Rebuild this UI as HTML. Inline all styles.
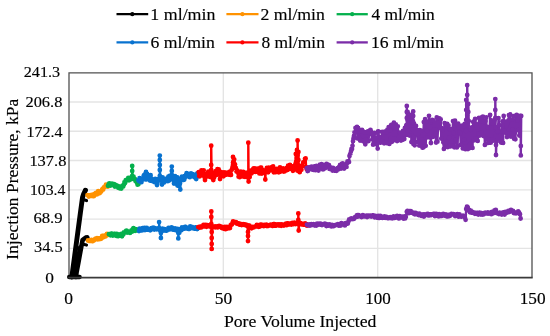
<!DOCTYPE html>
<html><head><meta charset="utf-8"><style>
html,body{margin:0;padding:0;background:#fff;}
svg{display:block;}
text{font-family:"Liberation Serif","Times New Roman",serif;fill:#000;stroke:#000;stroke-width:0.16px;}
.d polyline,.d path{fill:none;stroke-linejoin:round;stroke-linecap:round;}
</style></head><body>
<svg width="550" height="336" viewBox="0 0 550 336">
<rect width="550" height="336" fill="#fff"/>
<g stroke="#E4E4E4" stroke-width="1.4"><line x1="69.0" y1="248.34" x2="532.0" y2="248.34"/><line x1="69.0" y1="219.09" x2="532.0" y2="219.09"/><line x1="69.0" y1="189.83" x2="532.0" y2="189.83"/><line x1="69.0" y1="160.57" x2="532.0" y2="160.57"/><line x1="69.0" y1="131.31" x2="532.0" y2="131.31"/><line x1="69.0" y1="102.06" x2="532.0" y2="102.06"/><line x1="223.33" y1="72.8" x2="223.33" y2="277.6"/><line x1="377.67" y1="72.8" x2="377.67" y2="277.6"/></g>
<path d="M69.0,277.6 V72.8 H532.0 V277.6" fill="none" stroke="#505050" stroke-width="1.3"/>
<g class="d"><polyline points="85.4,190.3 83.6,194.0 82.5,197.5 80.5,212.0 78.5,227.0 76.5,242.0 74.5,257.0 72.6,271.0 71.8,277.0" stroke="#000000" stroke-width="4.9"/><polyline points="87.3,237.4 84.5,238.4 82.6,240.0 80.5,251.0 78.5,262.0 76.6,272.0 76.0,277.0" stroke="#000000" stroke-width="4.6"/><polyline points="79.5,247.0 77.8,256.0 76.0,265.0 74.3,273.0" stroke="#000000" stroke-width="3.0"/><polyline points="69.3,277.0 72.0,277.0 75.0,277.0 79.5,277.0" stroke="#000000" stroke-width="4.6"/><polyline points="83.0,199.5 86.5,200.5" stroke="#000000" stroke-width="3.2"/><polyline points="82.0,244.0 86.5,245.0" stroke="#000000" stroke-width="3.2"/><path d="M85.5,190.3h0M86.0,237.5h0" stroke="#000000" stroke-width="4.4"/><polyline points="87.5,195.1 88.1,195.4 88.8,196.5 89.4,195.3 90.0,195.5 90.8,195.8 91.5,194.8 92.2,195.8 93.0,196.2 93.8,196.2 94.5,193.8 95.2,193.9 96.0,192.9 96.8,194.4 97.5,193.5 98.2,191.2 99.0,193.4 99.8,193.1 100.5,191.9 101.2,191.6 102.0,190.0 102.6,188.9 103.2,189.6 103.9,187.5 104.5,187.1 105.2,186.3 106.0,184.7 106.6,185.8 107.2,185.6 107.9,186.6 108.5,185.5" stroke="#FF9200" stroke-width="2.4"/><path d="M87.5,195.1h0M88.1,195.4h0M88.8,196.5h0M89.4,195.3h0M90.0,195.5h0M90.8,195.8h0M91.5,194.8h0M92.2,195.8h0M93.0,196.2h0M93.8,196.2h0M94.5,193.8h0M95.2,193.9h0M96.0,192.9h0M96.8,194.4h0M97.5,193.5h0M98.2,191.2h0M99.0,193.4h0M99.8,193.1h0M100.5,191.9h0M101.2,191.6h0M102.0,190.0h0M102.6,188.9h0M103.2,189.6h0M103.9,187.5h0M104.5,187.1h0M105.2,186.3h0M106.0,184.7h0M106.6,185.8h0M107.2,185.6h0M107.9,186.6h0M108.5,185.5h0" stroke="#FF9200" stroke-width="4.8"/><polyline points="88.0,240.5 88.7,240.8 89.3,240.5 90.0,240.9 90.8,240.3 91.5,239.8 92.2,241.2 93.0,241.1 93.7,240.6 94.3,240.1 95.0,239.1 95.7,238.7 96.3,238.7 97.0,238.1 97.8,239.4 98.5,238.4 99.2,239.2 100.0,238.1 100.8,238.9 101.5,238.2 102.2,235.9 103.0,235.9 103.8,237.0 104.6,235.6 105.4,236.4 106.2,234.9 107.0,234.0 107.7,235.1 108.5,234.6" stroke="#FF9200" stroke-width="2.4"/><path d="M88.0,240.5h0M88.7,240.8h0M89.3,240.5h0M90.0,240.9h0M90.8,240.3h0M91.5,239.8h0M92.2,241.2h0M93.0,241.1h0M93.7,240.6h0M94.3,240.1h0M95.0,239.1h0M95.7,238.7h0M96.3,238.7h0M97.0,238.1h0M97.8,239.4h0M98.5,238.4h0M99.2,239.2h0M100.0,238.1h0M100.8,238.9h0M101.5,238.2h0M102.2,235.9h0M103.0,235.9h0M103.8,237.0h0M104.6,235.6h0M105.4,236.4h0M106.2,234.9h0M107.0,234.0h0M107.7,235.1h0M108.5,234.6h0" stroke="#FF9200" stroke-width="4.8"/><polyline points="108.0,185.8 108.7,184.2 109.3,183.4 109.9,183.9 110.6,185.5 111.3,185.2 112.0,183.6 112.7,184.2 113.4,184.1 114.1,184.2 114.8,186.5 115.5,185.0 116.2,186.4 116.9,186.4 117.6,186.0 118.3,187.8 119.0,186.5 119.8,188.3 120.5,187.3 121.3,188.6 121.9,186.8 122.6,185.7 123.2,186.4 123.9,184.7 124.5,182.1 125.1,182.9 125.8,180.1 126.4,179.8 127.0,180.3 127.7,179.6 128.3,177.9 129.0,180.3 129.7,178.0 130.3,178.0 131.0,179.3 131.6,177.8 132.2,176.0 132.2,171.0 132.2,166.0 132.6,177.5 132.2,177.5 132.9,176.7 133.5,176.6 134.2,178.9 134.8,178.9 135.5,180.9 136.1,181.3 136.8,182.5 137.6,184.7 138.4,184.2" stroke="#04B04C" stroke-width="2.4"/><path d="M108.0,185.8h0M108.7,184.2h0M109.3,183.4h0M109.9,183.9h0M110.6,185.5h0M111.3,185.2h0M112.0,183.6h0M112.7,184.2h0M113.4,184.1h0M114.1,184.2h0M114.8,186.5h0M115.5,185.0h0M116.2,186.4h0M116.9,186.4h0M117.6,186.0h0M118.3,187.8h0M119.0,186.5h0M119.8,188.3h0M120.5,187.3h0M121.3,188.6h0M121.9,186.8h0M122.6,185.7h0M123.2,186.4h0M123.9,184.7h0M124.5,182.1h0M125.1,182.9h0M125.8,180.1h0M126.4,179.8h0M127.0,180.3h0M127.7,179.6h0M128.3,177.9h0M129.0,180.3h0M129.7,178.0h0M130.3,178.0h0M131.0,179.3h0M131.6,177.8h0M132.2,176.0h0M132.2,171.0h0M132.2,166.0h0M132.6,177.5h0M132.2,177.5h0M132.9,176.7h0M133.5,176.6h0M134.2,178.9h0M134.8,178.9h0M135.5,180.9h0M136.1,181.3h0M136.8,182.5h0M137.6,184.7h0M138.4,184.2h0" stroke="#04B04C" stroke-width="4.8"/><polyline points="108.9,234.2 109.7,234.5 110.5,235.3 111.2,233.6 112.0,233.6 112.7,235.6 113.4,235.4 114.1,233.9 114.8,233.8 115.5,235.3 116.2,235.8 116.9,233.9 117.7,236.0 118.5,236.0 119.2,235.4 120.0,235.1 120.7,234.2 121.3,234.0 122.0,236.3 122.7,234.3 123.3,234.5 123.9,232.4 124.5,232.8 125.2,232.1 125.8,231.1 126.5,230.7 127.2,232.6 127.8,231.4 128.5,232.3 129.2,232.7 130.0,232.9 130.8,231.8 131.5,230.4 132.2,231.6 132.8,229.2 133.5,228.2 134.3,229.6 135.1,230.9 135.8,229.5 136.6,229.5 137.3,230.0" stroke="#04B04C" stroke-width="2.4"/><path d="M108.9,234.2h0M109.7,234.5h0M110.5,235.3h0M111.2,233.6h0M112.0,233.6h0M112.7,235.6h0M113.4,235.4h0M114.1,233.9h0M114.8,233.8h0M115.5,235.3h0M116.2,235.8h0M116.9,233.9h0M117.7,236.0h0M118.5,236.0h0M119.2,235.4h0M120.0,235.1h0M120.7,234.2h0M121.3,234.0h0M122.0,236.3h0M122.7,234.3h0M123.3,234.5h0M123.9,232.4h0M124.5,232.8h0M125.2,232.1h0M125.8,231.1h0M126.5,230.7h0M127.2,232.6h0M127.8,231.4h0M128.5,232.3h0M129.2,232.7h0M130.0,232.9h0M130.8,231.8h0M131.5,230.4h0M132.2,231.6h0M132.8,229.2h0M133.5,228.2h0M134.3,229.6h0M135.1,230.9h0M135.8,229.5h0M136.6,229.5h0M137.3,230.0h0" stroke="#04B04C" stroke-width="4.8"/><polyline points="138.4,180.2 139.0,181.1 139.6,178.1 140.2,179.2 140.8,182.0 141.4,182.2 142.0,179.9 142.6,179.8 143.1,178.8 143.7,175.8 144.3,174.8 144.9,174.3 145.4,179.3 146.0,172.0 146.4,177.7 146.0,177.7 146.6,179.4 147.1,173.9 147.7,177.7 148.3,177.0 148.9,178.6 149.4,176.3 150.0,180.5 150.6,175.2 151.1,178.3 151.7,179.8 152.3,181.0 152.9,180.4 153.4,180.4 154.0,181.3 154.6,182.2 155.2,179.0 155.8,181.2 156.4,182.7 157.0,185.0 157.4,182.7 157.0,182.7 157.7,179.2 158.3,180.6 159.0,180.2 159.6,178.8 159.8,176.0 159.8,170.0 159.8,165.0 159.8,160.0 159.8,155.6 160.2,179.5 160.2,179.5 160.8,178.5 161.4,180.1 162.0,184.5 162.4,180.7 162.0,180.7 162.6,177.4 163.1,180.7 163.7,182.7 164.3,182.0 164.9,181.0 165.4,178.9 166.0,180.9 166.6,179.9 167.2,178.9 167.8,181.2 168.4,176.6 169.0,180.5 169.6,176.0 170.2,179.2 170.8,178.3 171.4,176.6 171.8,175.0 171.8,171.0 171.8,166.6 172.2,179.2 172.0,179.2 172.6,178.2 173.2,179.1 173.8,181.1 174.0,183.5 174.4,177.3 174.4,177.3 175.0,176.1 175.6,177.9 176.2,180.3 176.8,177.5 177.4,177.4 177.5,185.5 177.9,181.9 178.0,181.9 178.7,181.0 179.3,180.2 180.0,183.4 180.3,189.5 180.7,179.1 180.7,179.1 181.3,180.3 182.0,176.7 182.6,177.7 183.1,179.6 183.7,179.9 184.3,179.4 184.9,176.0 185.4,176.9 186.0,174.9 186.6,173.2 187.2,174.7 187.9,176.1 188.5,175.6 189.1,175.3 189.8,177.2 190.4,173.7 191.0,173.5 191.6,175.3 192.1,174.4 192.7,174.1 193.3,175.4 193.9,176.8 194.4,176.1 195.0,175.1 195.6,178.2 196.2,179.0 196.8,175.8 197.3,173.5 197.9,173.2 198.5,176.0" stroke="#0872CF" stroke-width="2.4"/><path d="M138.4,180.2h0M139.0,181.1h0M139.6,178.1h0M140.2,179.2h0M140.8,182.0h0M141.4,182.2h0M142.0,179.9h0M142.6,179.8h0M143.1,178.8h0M143.7,175.8h0M144.3,174.8h0M144.9,174.3h0M145.4,179.3h0M146.0,172.0h0M146.4,177.7h0M146.0,177.7h0M146.6,179.4h0M147.1,173.9h0M147.7,177.7h0M148.3,177.0h0M148.9,178.6h0M149.4,176.3h0M150.0,180.5h0M150.6,175.2h0M151.1,178.3h0M151.7,179.8h0M152.3,181.0h0M152.9,180.4h0M153.4,180.4h0M154.0,181.3h0M154.6,182.2h0M155.2,179.0h0M155.8,181.2h0M156.4,182.7h0M157.0,185.0h0M157.4,182.7h0M157.0,182.7h0M157.7,179.2h0M158.3,180.6h0M159.0,180.2h0M159.6,178.8h0M159.8,176.0h0M159.8,170.0h0M159.8,165.0h0M159.8,160.0h0M159.8,155.6h0M160.2,179.5h0M160.2,179.5h0M160.8,178.5h0M161.4,180.1h0M162.0,184.5h0M162.4,180.7h0M162.0,180.7h0M162.6,177.4h0M163.1,180.7h0M163.7,182.7h0M164.3,182.0h0M164.9,181.0h0M165.4,178.9h0M166.0,180.9h0M166.6,179.9h0M167.2,178.9h0M167.8,181.2h0M168.4,176.6h0M169.0,180.5h0M169.6,176.0h0M170.2,179.2h0M170.8,178.3h0M171.4,176.6h0M171.8,175.0h0M171.8,171.0h0M171.8,166.6h0M172.2,179.2h0M172.0,179.2h0M172.6,178.2h0M173.2,179.1h0M173.8,181.1h0M174.0,183.5h0M174.4,177.3h0M174.4,177.3h0M175.0,176.1h0M175.6,177.9h0M176.2,180.3h0M176.8,177.5h0M177.4,177.4h0M177.5,185.5h0M177.9,181.9h0M178.0,181.9h0M178.7,181.0h0M179.3,180.2h0M180.0,183.4h0M180.3,189.5h0M180.7,179.1h0M180.7,179.1h0M181.3,180.3h0M182.0,176.7h0M182.6,177.7h0M183.1,179.6h0M183.7,179.9h0M184.3,179.4h0M184.9,176.0h0M185.4,176.9h0M186.0,174.9h0M186.6,173.2h0M187.2,174.7h0M187.9,176.1h0M188.5,175.6h0M189.1,175.3h0M189.8,177.2h0M190.4,173.7h0M191.0,173.5h0M191.6,175.3h0M192.1,174.4h0M192.7,174.1h0M193.3,175.4h0M193.9,176.8h0M194.4,176.1h0M195.0,175.1h0M195.6,178.2h0M196.2,179.0h0M196.8,175.8h0M197.3,173.5h0M197.9,173.2h0M198.5,176.0h0" stroke="#0872CF" stroke-width="4.8"/><polyline points="139.0,231.0 139.6,228.6 140.2,230.4 140.8,230.0 141.4,229.1 142.0,230.4 142.6,228.2 143.2,228.4 143.8,229.2 144.4,227.9 145.0,230.1 145.6,228.4 146.2,228.2 146.8,227.9 147.3,229.5 147.9,229.0 148.5,229.5 149.1,229.5 149.7,229.9 150.2,230.3 150.8,229.5 151.4,228.2 152.0,228.9 152.6,228.1 153.1,227.6 153.7,228.9 154.3,229.6 154.9,228.1 155.4,228.4 156.0,228.6 156.6,229.3 157.2,228.6 157.9,228.6 158.5,228.7 159.1,228.2 159.1,222.1 159.5,229.8 159.6,229.8 160.1,230.6 160.7,228.8 160.9,233.0 160.9,238.0 161.3,231.1 161.2,231.1 161.8,230.5 162.3,228.7 162.9,229.5 163.4,229.9 164.0,230.6 164.6,229.1 165.1,229.6 165.7,230.5 166.2,230.2 166.8,230.6 167.3,229.2 167.9,229.5 168.5,228.0 169.2,229.3 169.8,229.3 170.4,228.6 171.0,228.6 171.6,227.3 172.1,229.3 172.7,229.6 173.2,229.7 173.8,228.6 174.4,229.5 175.1,228.4 175.7,230.2 176.4,230.3 177.0,229.1 177.6,229.0 178.2,230.6 178.3,233.0 178.3,238.4 178.7,231.5 178.7,231.5 179.3,232.8 180.0,231.1 180.7,228.9 181.3,230.2 182.0,227.3 182.6,229.2 183.2,227.3 183.8,227.6 184.4,228.7 185.0,226.8 185.6,226.8 186.1,227.8 186.7,228.3 187.3,228.6 187.9,228.2 188.4,228.9 189.0,227.6 189.6,228.8 190.2,226.4 190.7,226.7 191.3,227.6 191.9,227.0 192.5,228.2 193.1,228.0 193.7,227.7 194.3,228.7 194.8,227.9 195.4,227.3 196.0,227.5 196.6,228.9 197.2,229.1 197.8,228.0" stroke="#0872CF" stroke-width="2.4"/><path d="M139.0,231.0h0M139.6,228.6h0M140.2,230.4h0M140.8,230.0h0M141.4,229.1h0M142.0,230.4h0M142.6,228.2h0M143.2,228.4h0M143.8,229.2h0M144.4,227.9h0M145.0,230.1h0M145.6,228.4h0M146.2,228.2h0M146.8,227.9h0M147.3,229.5h0M147.9,229.0h0M148.5,229.5h0M149.1,229.5h0M149.7,229.9h0M150.2,230.3h0M150.8,229.5h0M151.4,228.2h0M152.0,228.9h0M152.6,228.1h0M153.1,227.6h0M153.7,228.9h0M154.3,229.6h0M154.9,228.1h0M155.4,228.4h0M156.0,228.6h0M156.6,229.3h0M157.2,228.6h0M157.9,228.6h0M158.5,228.7h0M159.1,228.2h0M159.1,222.1h0M159.5,229.8h0M159.6,229.8h0M160.1,230.6h0M160.7,228.8h0M160.9,233.0h0M160.9,238.0h0M161.3,231.1h0M161.2,231.1h0M161.8,230.5h0M162.3,228.7h0M162.9,229.5h0M163.4,229.9h0M164.0,230.6h0M164.6,229.1h0M165.1,229.6h0M165.7,230.5h0M166.2,230.2h0M166.8,230.6h0M167.3,229.2h0M167.9,229.5h0M168.5,228.0h0M169.2,229.3h0M169.8,229.3h0M170.4,228.6h0M171.0,228.6h0M171.6,227.3h0M172.1,229.3h0M172.7,229.6h0M173.2,229.7h0M173.8,228.6h0M174.4,229.5h0M175.1,228.4h0M175.7,230.2h0M176.4,230.3h0M177.0,229.1h0M177.6,229.0h0M178.2,230.6h0M178.3,233.0h0M178.3,238.4h0M178.7,231.5h0M178.7,231.5h0M179.3,232.8h0M180.0,231.1h0M180.7,228.9h0M181.3,230.2h0M182.0,227.3h0M182.6,229.2h0M183.2,227.3h0M183.8,227.6h0M184.4,228.7h0M185.0,226.8h0M185.6,226.8h0M186.1,227.8h0M186.7,228.3h0M187.3,228.6h0M187.9,228.2h0M188.4,228.9h0M189.0,227.6h0M189.6,228.8h0M190.2,226.4h0M190.7,226.7h0M191.3,227.6h0M191.9,227.0h0M192.5,228.2h0M193.1,228.0h0M193.7,227.7h0M194.3,228.7h0M194.8,227.9h0M195.4,227.3h0M196.0,227.5h0M196.6,228.9h0M197.2,229.1h0M197.8,228.0h0" stroke="#0872CF" stroke-width="4.8"/><polyline points="198.7,172.1 199.2,175.9 199.8,176.3 200.3,173.2 200.9,173.1 201.4,170.4 202.0,172.2 202.6,172.4 203.1,173.5 203.7,170.3 204.3,176.7 204.9,174.2 205.0,180.0 205.4,173.9 205.4,173.9 206.0,176.9 206.6,175.3 207.1,174.7 207.7,175.8 208.3,171.7 208.9,174.5 209.4,173.6 210.0,176.9 210.6,177.1 211.2,170.0 211.2,165.0 211.2,145.7 211.6,173.3 211.2,173.3 211.8,175.0 212.4,173.2 213.0,175.6 213.3,180.0 213.7,177.5 213.6,177.5 214.1,177.4 214.7,174.2 215.2,172.6 215.8,171.2 216.4,173.4 216.9,174.8 217.5,169.1 218.1,173.8 218.7,169.4 219.3,171.0 219.9,171.8 220.0,179.0 220.4,175.2 220.5,175.2 221.1,173.4 221.7,174.1 222.3,175.7 222.9,172.4 223.5,176.3 224.1,172.4 224.6,174.8 225.2,173.1 225.8,172.7 226.4,174.7 227.0,174.1 227.6,173.6 228.1,173.8 228.7,174.5 229.3,172.0 229.9,172.3 230.4,174.9 231.0,174.9 231.8,169.7 232.5,167.2 233.0,165.0 233.0,157.0 233.4,162.7 233.0,162.7 233.5,161.3 234.2,159.3 235.0,164.5 235.8,168.0 236.5,171.6 237.2,170.3 238.0,172.8 238.6,176.7 239.1,172.2 239.7,177.2 240.3,176.5 240.9,171.7 241.4,172.3 242.0,175.5 242.6,172.7 243.2,171.8 243.8,176.7 244.4,174.3 245.0,176.9 245.6,172.8 246.2,174.8 246.8,176.8 247.4,172.7 248.0,174.1 248.3,178.0 248.3,142.7 248.6,181.5 249.0,176.5 248.7,176.5 248.6,176.5 249.1,177.2 249.7,176.9 250.3,170.7 250.9,172.5 251.4,173.4 252.0,171.0 252.6,172.3 253.1,169.2 253.7,168.5 254.3,168.8 254.9,168.4 255.4,171.8 256.0,171.6 256.6,171.7 257.1,168.8 257.7,168.8 258.3,168.7 258.9,172.6 259.4,173.4 260.0,172.7 260.6,167.7 261.2,167.7 261.9,173.6 262.5,170.8 263.1,172.9 263.8,170.4 264.4,171.5 265.0,172.1 265.3,179.5 265.7,171.2 265.6,171.2 266.2,171.9 266.9,167.8 267.5,171.8 268.1,172.3 268.8,167.7 269.4,169.1 270.0,170.5 270.6,168.5 271.2,167.3 271.9,167.2 272.5,169.6 273.1,166.5 273.8,172.3 274.4,171.8 275.0,171.3 275.6,172.2 276.2,170.6 276.9,169.0 277.5,170.1 278.1,169.4 278.8,172.3 279.4,171.1 280.0,167.5 280.6,171.6 281.2,170.6 281.9,170.8 282.5,171.0 283.1,168.4 283.8,171.5 284.4,171.4 285.0,170.2 285.6,170.6 286.2,170.4 286.9,168.0 287.5,169.9 288.1,165.6 288.8,167.2 289.4,167.9 290.0,164.9 290.6,167.1 291.1,168.9 291.7,168.8 292.3,166.3 292.9,170.8 293.4,169.1 294.0,167.0 294.7,167.0 295.3,164.4 295.8,154.0 296.2,162.2 296.0,162.2 296.7,164.0 297.0,166.0 297.0,158.0 297.0,150.0 297.4,170.5 297.3,170.5 297.6,165.0 297.6,155.0 297.6,140.5 298.0,170.9 298.0,170.9 298.4,167.0 298.4,160.0 298.4,152.0 298.8,171.0 298.6,171.0 299.1,171.1 299.7,172.2 300.3,165.8 300.9,169.3 301.4,169.8 302.0,166.4 302.6,166.0 303.2,162.5 303.8,162.1 304.4,161.9 305.0,158.8 305.6,158.4 306.1,167.1 306.7,169.0" stroke="#FF0000" stroke-width="2.4"/><path d="M198.7,172.1h0M199.2,175.9h0M199.8,176.3h0M200.3,173.2h0M200.9,173.1h0M201.4,170.4h0M202.0,172.2h0M202.6,172.4h0M203.1,173.5h0M203.7,170.3h0M204.3,176.7h0M204.9,174.2h0M205.0,180.0h0M205.4,173.9h0M205.4,173.9h0M206.0,176.9h0M206.6,175.3h0M207.1,174.7h0M207.7,175.8h0M208.3,171.7h0M208.9,174.5h0M209.4,173.6h0M210.0,176.9h0M210.6,177.1h0M211.2,170.0h0M211.2,165.0h0M211.2,145.7h0M211.6,173.3h0M211.2,173.3h0M211.8,175.0h0M212.4,173.2h0M213.0,175.6h0M213.3,180.0h0M213.7,177.5h0M213.6,177.5h0M214.1,177.4h0M214.7,174.2h0M215.2,172.6h0M215.8,171.2h0M216.4,173.4h0M216.9,174.8h0M217.5,169.1h0M218.1,173.8h0M218.7,169.4h0M219.3,171.0h0M219.9,171.8h0M220.0,179.0h0M220.4,175.2h0M220.5,175.2h0M221.1,173.4h0M221.7,174.1h0M222.3,175.7h0M222.9,172.4h0M223.5,176.3h0M224.1,172.4h0M224.6,174.8h0M225.2,173.1h0M225.8,172.7h0M226.4,174.7h0M227.0,174.1h0M227.6,173.6h0M228.1,173.8h0M228.7,174.5h0M229.3,172.0h0M229.9,172.3h0M230.4,174.9h0M231.0,174.9h0M231.8,169.7h0M232.5,167.2h0M233.0,165.0h0M233.0,157.0h0M233.4,162.7h0M233.0,162.7h0M233.5,161.3h0M234.2,159.3h0M235.0,164.5h0M235.8,168.0h0M236.5,171.6h0M237.2,170.3h0M238.0,172.8h0M238.6,176.7h0M239.1,172.2h0M239.7,177.2h0M240.3,176.5h0M240.9,171.7h0M241.4,172.3h0M242.0,175.5h0M242.6,172.7h0M243.2,171.8h0M243.8,176.7h0M244.4,174.3h0M245.0,176.9h0M245.6,172.8h0M246.2,174.8h0M246.8,176.8h0M247.4,172.7h0M248.0,174.1h0M248.3,178.0h0M248.3,142.7h0M248.6,181.5h0M249.0,176.5h0M248.7,176.5h0M248.6,176.5h0M249.1,177.2h0M249.7,176.9h0M250.3,170.7h0M250.9,172.5h0M251.4,173.4h0M252.0,171.0h0M252.6,172.3h0M253.1,169.2h0M253.7,168.5h0M254.3,168.8h0M254.9,168.4h0M255.4,171.8h0M256.0,171.6h0M256.6,171.7h0M257.1,168.8h0M257.7,168.8h0M258.3,168.7h0M258.9,172.6h0M259.4,173.4h0M260.0,172.7h0M260.6,167.7h0M261.2,167.7h0M261.9,173.6h0M262.5,170.8h0M263.1,172.9h0M263.8,170.4h0M264.4,171.5h0M265.0,172.1h0M265.3,179.5h0M265.7,171.2h0M265.6,171.2h0M266.2,171.9h0M266.9,167.8h0M267.5,171.8h0M268.1,172.3h0M268.8,167.7h0M269.4,169.1h0M270.0,170.5h0M270.6,168.5h0M271.2,167.3h0M271.9,167.2h0M272.5,169.6h0M273.1,166.5h0M273.8,172.3h0M274.4,171.8h0M275.0,171.3h0M275.6,172.2h0M276.2,170.6h0M276.9,169.0h0M277.5,170.1h0M278.1,169.4h0M278.8,172.3h0M279.4,171.1h0M280.0,167.5h0M280.6,171.6h0M281.2,170.6h0M281.9,170.8h0M282.5,171.0h0M283.1,168.4h0M283.8,171.5h0M284.4,171.4h0M285.0,170.2h0M285.6,170.6h0M286.2,170.4h0M286.9,168.0h0M287.5,169.9h0M288.1,165.6h0M288.8,167.2h0M289.4,167.9h0M290.0,164.9h0M290.6,167.1h0M291.1,168.9h0M291.7,168.8h0M292.3,166.3h0M292.9,170.8h0M293.4,169.1h0M294.0,167.0h0M294.7,167.0h0M295.3,164.4h0M295.8,154.0h0M296.2,162.2h0M296.0,162.2h0M296.7,164.0h0M297.0,166.0h0M297.0,158.0h0M297.0,150.0h0M297.4,170.5h0M297.3,170.5h0M297.6,165.0h0M297.6,155.0h0M297.6,140.5h0M298.0,170.9h0M298.0,170.9h0M298.4,167.0h0M298.4,160.0h0M298.4,152.0h0M298.8,171.0h0M298.6,171.0h0M299.1,171.1h0M299.7,172.2h0M300.3,165.8h0M300.9,169.3h0M301.4,169.8h0M302.0,166.4h0M302.6,166.0h0M303.2,162.5h0M303.8,162.1h0M304.4,161.9h0M305.0,158.8h0M305.6,158.4h0M306.1,167.1h0M306.7,169.0h0" stroke="#FF0000" stroke-width="4.8"/><polyline points="198.3,227.1 199.0,226.9 199.8,227.7 200.5,226.7 201.2,227.4 202.0,226.5 202.7,226.7 203.5,224.9 204.2,225.9 205.0,226.3 205.7,224.8 206.5,226.8 207.2,225.2 208.0,225.9 208.7,225.4 209.4,226.3 210.1,226.7 210.9,225.6 211.3,224.0 211.3,217.0 211.3,211.5 211.7,232.0 211.7,238.0 211.7,244.0 211.7,248.9 212.1,227.7 211.7,227.7 211.6,227.7 212.3,226.7 213.0,227.1 213.7,227.2 214.3,226.7 215.0,226.5 215.7,227.3 216.4,227.1 217.1,226.4 217.7,227.4 218.4,226.5 219.1,226.0 219.8,226.6 220.5,226.3 221.2,226.6 221.9,228.1 222.7,227.4 223.4,228.6 224.1,228.4 224.8,227.0 225.5,229.2 226.2,228.9 227.0,226.8 227.8,228.4 228.5,227.2 229.2,227.1 230.0,228.0 230.7,225.2 231.3,224.7 231.9,224.4 232.6,222.7 233.1,221.3 233.7,221.6 234.5,222.0 235.2,222.4 236.0,222.2 236.7,223.6 237.4,223.5 238.2,223.3 238.9,223.3 239.6,224.7 240.3,223.8 241.0,224.5 241.7,225.0 242.4,224.5 243.1,224.1 243.9,224.8 244.6,224.4 245.3,225.2 246.0,224.7 246.7,225.7 247.4,226.1 248.0,232.0 248.0,236.0 248.0,241.1 248.4,226.1 248.1,226.1 248.8,225.5 249.4,225.7 250.1,227.9 250.8,228.1 251.5,228.3 252.2,227.4 252.8,226.8 253.5,227.4 254.2,226.8 254.9,226.6 255.5,226.3 256.2,226.3 256.9,225.0 257.6,225.1 258.4,226.8 259.1,226.6 259.8,226.5 260.5,224.7 261.3,224.7 262.0,225.2 262.7,225.5 263.4,226.0 264.2,224.8 264.9,225.8 265.6,224.8 266.3,224.7 267.0,226.0 267.8,225.6 268.5,225.8 269.2,225.2 269.9,225.3 270.7,224.7 271.4,224.9 272.1,225.8 272.8,225.9 273.6,224.2 274.3,224.2 275.0,225.7 275.7,225.2 276.4,225.5 277.1,224.3 277.7,224.7 278.4,224.3 279.1,225.5 279.8,224.5 280.5,225.1 281.2,225.8 281.9,224.3 282.5,224.8 283.2,225.2 283.9,225.6 284.6,224.4 285.3,224.2 286.0,223.6 286.7,225.2 287.4,223.4 288.1,223.3 288.8,224.3 289.5,224.1 290.2,224.4 290.8,223.5 291.5,224.5 292.2,222.9 292.9,223.1 293.6,224.0 294.3,222.7 295.0,223.1 295.7,224.0 296.4,223.8 297.1,223.0 297.8,222.9 298.3,220.0 298.3,213.4 298.7,230.5 299.1,223.4 298.7,223.4 298.6,223.4 299.3,224.4 300.0,223.7 300.7,223.1 301.4,224.3 302.2,223.9 302.9,224.6 303.6,224.6 304.4,224.5 305.1,223.3 305.8,224.1 306.4,224.1 307.0,225.7" stroke="#FF0000" stroke-width="2.4"/><path d="M198.3,227.1h0M199.0,226.9h0M199.8,227.7h0M200.5,226.7h0M201.2,227.4h0M202.0,226.5h0M202.7,226.7h0M203.5,224.9h0M204.2,225.9h0M205.0,226.3h0M205.7,224.8h0M206.5,226.8h0M207.2,225.2h0M208.0,225.9h0M208.7,225.4h0M209.4,226.3h0M210.1,226.7h0M210.9,225.6h0M211.3,224.0h0M211.3,217.0h0M211.3,211.5h0M211.7,232.0h0M211.7,238.0h0M211.7,244.0h0M211.7,248.9h0M212.1,227.7h0M211.7,227.7h0M211.6,227.7h0M212.3,226.7h0M213.0,227.1h0M213.7,227.2h0M214.3,226.7h0M215.0,226.5h0M215.7,227.3h0M216.4,227.1h0M217.1,226.4h0M217.7,227.4h0M218.4,226.5h0M219.1,226.0h0M219.8,226.6h0M220.5,226.3h0M221.2,226.6h0M221.9,228.1h0M222.7,227.4h0M223.4,228.6h0M224.1,228.4h0M224.8,227.0h0M225.5,229.2h0M226.2,228.9h0M227.0,226.8h0M227.8,228.4h0M228.5,227.2h0M229.2,227.1h0M230.0,228.0h0M230.7,225.2h0M231.3,224.7h0M231.9,224.4h0M232.6,222.7h0M233.1,221.3h0M233.7,221.6h0M234.5,222.0h0M235.2,222.4h0M236.0,222.2h0M236.7,223.6h0M237.4,223.5h0M238.2,223.3h0M238.9,223.3h0M239.6,224.7h0M240.3,223.8h0M241.0,224.5h0M241.7,225.0h0M242.4,224.5h0M243.1,224.1h0M243.9,224.8h0M244.6,224.4h0M245.3,225.2h0M246.0,224.7h0M246.7,225.7h0M247.4,226.1h0M248.0,232.0h0M248.0,236.0h0M248.0,241.1h0M248.4,226.1h0M248.1,226.1h0M248.8,225.5h0M249.4,225.7h0M250.1,227.9h0M250.8,228.1h0M251.5,228.3h0M252.2,227.4h0M252.8,226.8h0M253.5,227.4h0M254.2,226.8h0M254.9,226.6h0M255.5,226.3h0M256.2,226.3h0M256.9,225.0h0M257.6,225.1h0M258.4,226.8h0M259.1,226.6h0M259.8,226.5h0M260.5,224.7h0M261.3,224.7h0M262.0,225.2h0M262.7,225.5h0M263.4,226.0h0M264.2,224.8h0M264.9,225.8h0M265.6,224.8h0M266.3,224.7h0M267.0,226.0h0M267.8,225.6h0M268.5,225.8h0M269.2,225.2h0M269.9,225.3h0M270.7,224.7h0M271.4,224.9h0M272.1,225.8h0M272.8,225.9h0M273.6,224.2h0M274.3,224.2h0M275.0,225.7h0M275.7,225.2h0M276.4,225.5h0M277.1,224.3h0M277.7,224.7h0M278.4,224.3h0M279.1,225.5h0M279.8,224.5h0M280.5,225.1h0M281.2,225.8h0M281.9,224.3h0M282.5,224.8h0M283.2,225.2h0M283.9,225.6h0M284.6,224.4h0M285.3,224.2h0M286.0,223.6h0M286.7,225.2h0M287.4,223.4h0M288.1,223.3h0M288.8,224.3h0M289.5,224.1h0M290.2,224.4h0M290.8,223.5h0M291.5,224.5h0M292.2,222.9h0M292.9,223.1h0M293.6,224.0h0M294.3,222.7h0M295.0,223.1h0M295.7,224.0h0M296.4,223.8h0M297.1,223.0h0M297.8,222.9h0M298.3,220.0h0M298.3,213.4h0M298.7,230.5h0M299.1,223.4h0M298.7,223.4h0M298.6,223.4h0M299.3,224.4h0M300.0,223.7h0M300.7,223.1h0M301.4,224.3h0M302.2,223.9h0M302.9,224.6h0M303.6,224.6h0M304.4,224.5h0M305.1,223.3h0M305.8,224.1h0M306.4,224.1h0M307.0,225.7h0" stroke="#FF0000" stroke-width="4.8"/><polyline points="306.7,168.1 307.2,168.4 307.6,171.1 308.1,170.8 308.6,167.4 309.1,167.9 309.5,167.9 310.0,167.8 310.5,167.9 311.0,167.8 311.5,166.7 312.0,168.6 312.5,169.7 313.0,168.3 313.5,169.8 314.0,168.3 314.5,166.4 315.0,169.5 315.5,170.2 316.0,167.1 316.5,165.8 317.0,168.5 317.5,168.7 318.0,168.9 318.5,170.5 319.0,168.5 319.5,168.8 320.0,164.6 320.5,166.7 321.0,167.5 321.5,164.2 322.0,164.5 322.5,168.2 323.0,169.4 323.5,165.5 324.0,168.7 324.5,165.6 325.0,168.3 325.5,167.3 326.0,164.7 326.5,164.0 327.0,166.4 327.5,164.6 328.0,166.4 328.5,165.0 329.0,165.2 329.5,168.9 330.0,167.9 330.5,167.5 331.0,168.2 331.5,169.3 332.0,169.3 332.5,170.5 333.0,168.0 333.5,170.3 334.0,169.6 334.5,170.7 335.0,170.6 335.5,170.5 336.0,170.6 336.5,170.8 337.0,169.0 337.5,168.2 338.0,169.0 338.5,169.3 339.0,167.1 339.5,166.7 340.1,164.9 340.6,167.7 341.1,168.6 341.6,165.1 342.2,163.6 342.7,163.5 343.2,165.0 343.6,164.7 344.1,168.6 344.5,164.3 345.0,166.0 345.5,164.5 346.0,166.8 346.5,166.9 347.0,163.3 347.5,161.5 348.0,162.3 348.5,161.7 349.0,162.1 349.5,155.9 350.0,154.6 350.5,153.4 351.0,151.2 351.5,149.0 352.0,149.1 352.5,145.8 353.0,141.2 353.5,138.4 354.0,135.9 354.5,132.3 355.0,132.8 355.5,128.0 356.0,128.6 356.5,129.3 357.0,127.0 357.5,138.4 358.1,128.0 358.8,137.8 359.4,131.8 360.1,140.5 360.7,130.7 361.4,140.3 362.0,130.0 362.7,131.3 363.3,141.3 364.0,140.4 364.6,132.1 365.3,144.3 365.9,139.7 366.6,132.5 367.2,141.2 367.9,131.5 368.5,141.0 369.2,132.0 369.8,130.7 370.5,129.8 371.1,131.8 371.8,134.5 372.4,139.1 373.1,144.7 373.7,133.7 374.4,133.0 375.0,143.9 375.7,138.0 376.3,142.1 377.0,144.6 377.6,132.8 377.7,148.6 378.1,131.5 378.3,131.5 378.9,141.8 379.6,136.8 380.2,142.6 380.9,142.5 381.5,141.1 382.2,131.9 382.8,141.6 383.5,132.5 384.1,143.3 384.8,142.9 385.4,131.5 386.1,132.4 386.7,143.0 387.4,129.7 388.0,130.2 388.7,127.1 389.3,143.9 390.0,130.5 390.6,138.2 391.3,124.8 391.9,141.8 392.6,125.3 393.2,140.6 393.9,122.7 394.5,138.5 395.2,128.3 395.8,124.3 396.5,126.8 397.1,141.1 397.8,126.3 398.4,139.9 399.1,136.9 399.7,132.7 400.4,137.0 401.0,140.6 401.7,138.1 402.3,139.9 403.0,131.0 403.6,134.1 404.3,139.0 404.9,128.0 405.6,135.0 406.2,125.4 406.8,125.0 406.8,118.0 406.8,112.0 406.8,106.0 407.2,134.6 406.9,134.6 407.5,126.6 407.6,120.0 407.6,112.0 408.0,124.2 408.2,124.2 408.8,118.3 409.5,135.6 410.1,116.2 410.8,115.0 411.4,142.1 412.1,142.0 412.7,121.0 413.2,130.0 413.2,122.0 413.2,116.0 413.2,111.4 413.6,144.0 413.4,144.0 414.0,123.6 414.7,145.3 415.3,133.0 416.0,125.9 416.6,129.8 417.3,133.8 417.9,141.9 418.6,133.5 419.2,145.6 419.9,130.1 420.5,143.6 421.2,130.6 421.8,139.6 422.5,147.7 423.1,147.5 423.8,122.1 424.4,146.5 425.1,119.2 425.7,145.8 426.4,121.3 427.0,130.8 427.7,137.3 428.3,126.2 429.0,115.8 429.6,137.3 430.3,127.0 430.9,143.0 431.6,120.3 432.2,119.9 432.9,136.9 433.5,120.3 434.2,125.3 434.8,122.4 435.5,134.0 436.1,142.5 436.8,117.3 437.4,141.7 438.1,125.8 438.7,123.3 439.4,118.3 440.0,128.2 440.7,119.5 441.3,138.6 442.0,128.2 442.6,129.9 443.3,142.3 443.9,148.9 444.6,123.1 445.2,124.1 445.9,142.2 446.5,146.4 447.2,123.8 447.8,147.1 448.5,125.4 449.1,138.0 449.8,129.0 450.4,146.4 451.1,129.4 451.7,129.1 452.4,145.6 453.0,121.1 453.7,133.0 454.3,147.3 455.0,120.7 455.6,139.9 456.3,124.0 456.9,147.4 457.6,146.3 458.2,123.7 458.9,127.5 459.5,132.7 460.2,133.3 460.8,144.8 461.5,125.9 462.1,125.6 462.8,148.4 463.4,126.7 464.1,139.7 464.7,123.9 465.4,149.2 466.0,130.8 466.2,120.0 466.2,110.0 466.2,100.0 466.6,146.7 466.7,146.7 467.2,125.0 467.2,115.0 467.2,105.0 467.2,95.0 467.2,85.2 467.6,125.3 467.3,125.3 468.0,149.0 468.3,122.0 468.3,112.0 468.3,104.0 468.7,120.9 468.6,120.9 469.3,148.2 469.9,144.2 470.6,129.8 471.2,146.1 471.9,127.4 472.5,147.9 473.2,121.9 473.8,140.4 474.5,120.9 475.1,118.9 475.8,138.3 476.4,124.2 477.1,127.2 477.7,140.9 478.4,133.6 479.0,117.8 479.7,135.5 480.3,133.9 481.0,121.4 481.6,132.5 482.3,116.9 482.9,116.6 483.6,136.1 484.2,122.1 484.9,144.9 485.5,120.9 486.2,117.5 486.8,139.2 487.5,127.0 488.1,142.9 488.8,141.6 489.4,139.7 490.1,115.0 490.7,142.7 491.4,120.4 492.0,139.6 492.7,123.6 493.3,140.5 494.0,122.0 494.6,120.3 495.3,127.2 495.3,118.0 495.3,110.0 495.3,99.1 495.7,136.4 495.9,136.4 496.0,145.0 496.0,155.0 496.4,141.4 496.6,141.4 497.2,131.5 497.9,139.2 498.5,118.1 499.2,125.2 499.8,136.2 500.5,138.9 501.1,142.6 501.8,131.5 502.4,121.3 503.1,142.9 503.7,115.9 504.4,130.8 505.0,121.7 505.7,132.8 506.3,126.0 507.0,137.1 507.6,123.0 508.3,120.7 508.9,115.1 509.6,133.8 510.2,114.5 510.9,136.5 511.5,134.0 512.2,119.6 512.8,129.3 513.5,116.2 514.1,138.8 514.8,132.9 515.4,139.3 516.1,115.3 516.7,115.0 517.4,120.3 518.0,130.1 518.7,117.7 519.3,135.5 520.0,116.0 520.3,116.5 520.7,116.0 520.8,146.0 520.8,155.4 521.2,116.0" stroke="#7B2CA8" stroke-width="2.4"/><path d="M306.7,168.1h0M307.2,168.4h0M307.6,171.1h0M308.1,170.8h0M308.6,167.4h0M309.1,167.9h0M309.5,167.9h0M310.0,167.8h0M310.5,167.9h0M311.0,167.8h0M311.5,166.7h0M312.0,168.6h0M312.5,169.7h0M313.0,168.3h0M313.5,169.8h0M314.0,168.3h0M314.5,166.4h0M315.0,169.5h0M315.5,170.2h0M316.0,167.1h0M316.5,165.8h0M317.0,168.5h0M317.5,168.7h0M318.0,168.9h0M318.5,170.5h0M319.0,168.5h0M319.5,168.8h0M320.0,164.6h0M320.5,166.7h0M321.0,167.5h0M321.5,164.2h0M322.0,164.5h0M322.5,168.2h0M323.0,169.4h0M323.5,165.5h0M324.0,168.7h0M324.5,165.6h0M325.0,168.3h0M325.5,167.3h0M326.0,164.7h0M326.5,164.0h0M327.0,166.4h0M327.5,164.6h0M328.0,166.4h0M328.5,165.0h0M329.0,165.2h0M329.5,168.9h0M330.0,167.9h0M330.5,167.5h0M331.0,168.2h0M331.5,169.3h0M332.0,169.3h0M332.5,170.5h0M333.0,168.0h0M333.5,170.3h0M334.0,169.6h0M334.5,170.7h0M335.0,170.6h0M335.5,170.5h0M336.0,170.6h0M336.5,170.8h0M337.0,169.0h0M337.5,168.2h0M338.0,169.0h0M338.5,169.3h0M339.0,167.1h0M339.5,166.7h0M340.1,164.9h0M340.6,167.7h0M341.1,168.6h0M341.6,165.1h0M342.2,163.6h0M342.7,163.5h0M343.2,165.0h0M343.6,164.7h0M344.1,168.6h0M344.5,164.3h0M345.0,166.0h0M345.5,164.5h0M346.0,166.8h0M346.5,166.9h0M347.0,163.3h0M347.5,161.5h0M348.0,162.3h0M348.5,161.7h0M349.0,162.1h0M349.5,155.9h0M350.0,154.6h0M350.5,153.4h0M351.0,151.2h0M351.5,149.0h0M352.0,149.1h0M352.5,145.8h0M353.0,141.2h0M353.5,138.4h0M354.0,135.9h0M354.5,132.3h0M355.0,132.8h0M355.5,128.0h0M356.0,128.6h0M356.5,129.3h0M357.0,127.0h0M357.5,138.4h0M358.1,128.0h0M358.8,137.8h0M359.4,131.8h0M360.1,140.5h0M360.7,130.7h0M361.4,140.3h0M362.0,130.0h0M362.7,131.3h0M363.3,141.3h0M364.0,140.4h0M364.6,132.1h0M365.3,144.3h0M365.9,139.7h0M366.6,132.5h0M367.2,141.2h0M367.9,131.5h0M368.5,141.0h0M369.2,132.0h0M369.8,130.7h0M370.5,129.8h0M371.1,131.8h0M371.8,134.5h0M372.4,139.1h0M373.1,144.7h0M373.7,133.7h0M374.4,133.0h0M375.0,143.9h0M375.7,138.0h0M376.3,142.1h0M377.0,144.6h0M377.6,132.8h0M377.7,148.6h0M378.1,131.5h0M378.3,131.5h0M378.9,141.8h0M379.6,136.8h0M380.2,142.6h0M380.9,142.5h0M381.5,141.1h0M382.2,131.9h0M382.8,141.6h0M383.5,132.5h0M384.1,143.3h0M384.8,142.9h0M385.4,131.5h0M386.1,132.4h0M386.7,143.0h0M387.4,129.7h0M388.0,130.2h0M388.7,127.1h0M389.3,143.9h0M390.0,130.5h0M390.6,138.2h0M391.3,124.8h0M391.9,141.8h0M392.6,125.3h0M393.2,140.6h0M393.9,122.7h0M394.5,138.5h0M395.2,128.3h0M395.8,124.3h0M396.5,126.8h0M397.1,141.1h0M397.8,126.3h0M398.4,139.9h0M399.1,136.9h0M399.7,132.7h0M400.4,137.0h0M401.0,140.6h0M401.7,138.1h0M402.3,139.9h0M403.0,131.0h0M403.6,134.1h0M404.3,139.0h0M404.9,128.0h0M405.6,135.0h0M406.2,125.4h0M406.8,125.0h0M406.8,118.0h0M406.8,112.0h0M406.8,106.0h0M407.2,134.6h0M406.9,134.6h0M407.5,126.6h0M407.6,120.0h0M407.6,112.0h0M408.0,124.2h0M408.2,124.2h0M408.8,118.3h0M409.5,135.6h0M410.1,116.2h0M410.8,115.0h0M411.4,142.1h0M412.1,142.0h0M412.7,121.0h0M413.2,130.0h0M413.2,122.0h0M413.2,116.0h0M413.2,111.4h0M413.6,144.0h0M413.4,144.0h0M414.0,123.6h0M414.7,145.3h0M415.3,133.0h0M416.0,125.9h0M416.6,129.8h0M417.3,133.8h0M417.9,141.9h0M418.6,133.5h0M419.2,145.6h0M419.9,130.1h0M420.5,143.6h0M421.2,130.6h0M421.8,139.6h0M422.5,147.7h0M423.1,147.5h0M423.8,122.1h0M424.4,146.5h0M425.1,119.2h0M425.7,145.8h0M426.4,121.3h0M427.0,130.8h0M427.7,137.3h0M428.3,126.2h0M429.0,115.8h0M429.6,137.3h0M430.3,127.0h0M430.9,143.0h0M431.6,120.3h0M432.2,119.9h0M432.9,136.9h0M433.5,120.3h0M434.2,125.3h0M434.8,122.4h0M435.5,134.0h0M436.1,142.5h0M436.8,117.3h0M437.4,141.7h0M438.1,125.8h0M438.7,123.3h0M439.4,118.3h0M440.0,128.2h0M440.7,119.5h0M441.3,138.6h0M442.0,128.2h0M442.6,129.9h0M443.3,142.3h0M443.9,148.9h0M444.6,123.1h0M445.2,124.1h0M445.9,142.2h0M446.5,146.4h0M447.2,123.8h0M447.8,147.1h0M448.5,125.4h0M449.1,138.0h0M449.8,129.0h0M450.4,146.4h0M451.1,129.4h0M451.7,129.1h0M452.4,145.6h0M453.0,121.1h0M453.7,133.0h0M454.3,147.3h0M455.0,120.7h0M455.6,139.9h0M456.3,124.0h0M456.9,147.4h0M457.6,146.3h0M458.2,123.7h0M458.9,127.5h0M459.5,132.7h0M460.2,133.3h0M460.8,144.8h0M461.5,125.9h0M462.1,125.6h0M462.8,148.4h0M463.4,126.7h0M464.1,139.7h0M464.7,123.9h0M465.4,149.2h0M466.0,130.8h0M466.2,120.0h0M466.2,110.0h0M466.2,100.0h0M466.6,146.7h0M466.7,146.7h0M467.2,125.0h0M467.2,115.0h0M467.2,105.0h0M467.2,95.0h0M467.2,85.2h0M467.6,125.3h0M467.3,125.3h0M468.0,149.0h0M468.3,122.0h0M468.3,112.0h0M468.3,104.0h0M468.7,120.9h0M468.6,120.9h0M469.3,148.2h0M469.9,144.2h0M470.6,129.8h0M471.2,146.1h0M471.9,127.4h0M472.5,147.9h0M473.2,121.9h0M473.8,140.4h0M474.5,120.9h0M475.1,118.9h0M475.8,138.3h0M476.4,124.2h0M477.1,127.2h0M477.7,140.9h0M478.4,133.6h0M479.0,117.8h0M479.7,135.5h0M480.3,133.9h0M481.0,121.4h0M481.6,132.5h0M482.3,116.9h0M482.9,116.6h0M483.6,136.1h0M484.2,122.1h0M484.9,144.9h0M485.5,120.9h0M486.2,117.5h0M486.8,139.2h0M487.5,127.0h0M488.1,142.9h0M488.8,141.6h0M489.4,139.7h0M490.1,115.0h0M490.7,142.7h0M491.4,120.4h0M492.0,139.6h0M492.7,123.6h0M493.3,140.5h0M494.0,122.0h0M494.6,120.3h0M495.3,127.2h0M495.3,118.0h0M495.3,110.0h0M495.3,99.1h0M495.7,136.4h0M495.9,136.4h0M496.0,145.0h0M496.0,155.0h0M496.4,141.4h0M496.6,141.4h0M497.2,131.5h0M497.9,139.2h0M498.5,118.1h0M499.2,125.2h0M499.8,136.2h0M500.5,138.9h0M501.1,142.6h0M501.8,131.5h0M502.4,121.3h0M503.1,142.9h0M503.7,115.9h0M504.4,130.8h0M505.0,121.7h0M505.7,132.8h0M506.3,126.0h0M507.0,137.1h0M507.6,123.0h0M508.3,120.7h0M508.9,115.1h0M509.6,133.8h0M510.2,114.5h0M510.9,136.5h0M511.5,134.0h0M512.2,119.6h0M512.8,129.3h0M513.5,116.2h0M514.1,138.8h0M514.8,132.9h0M515.4,139.3h0M516.1,115.3h0M516.7,115.0h0M517.4,120.3h0M518.0,130.1h0M518.7,117.7h0M519.3,135.5h0M520.0,116.0h0M520.3,116.5h0M520.7,116.0h0M520.8,146.0h0M520.8,155.4h0M521.2,116.0h0" stroke="#7B2CA8" stroke-width="4.8"/><polyline points="307.0,224.6 307.7,225.2 308.5,225.3 309.2,224.5 309.9,225.7 310.6,224.6 311.4,224.2 312.1,224.8 312.8,224.9 313.5,224.2 314.3,225.3 315.0,225.5 315.7,225.1 316.4,225.5 317.1,223.7 317.8,224.6 318.5,224.5 319.2,223.7 319.9,224.6 320.6,223.7 321.3,224.8 322.0,225.0 322.7,224.8 323.5,224.4 324.2,224.3 324.9,223.7 325.6,224.6 326.4,226.1 327.1,225.3 327.8,224.5 328.5,225.6 329.3,224.4 330.0,225.2 330.7,225.5 331.4,226.4 332.1,224.8 332.9,225.3 333.6,226.2 334.3,225.7 335.0,225.2 335.7,225.2 336.4,224.6 337.1,224.5 337.9,224.1 338.6,225.5 339.3,225.5 340.0,224.2 340.7,225.5 341.4,223.2 342.1,223.4 342.8,224.3 343.5,223.8 344.2,223.8 344.9,225.4 345.6,223.2 346.3,223.3 347.0,223.3 347.8,223.5 348.5,221.3 349.2,219.5 350.0,219.6 350.7,219.0 351.3,218.4 352.0,218.8 352.7,219.1 353.3,218.7 354.0,218.8 354.8,217.4 355.5,216.9 356.1,217.1 356.8,215.3 357.4,215.2 358.0,216.5 358.7,215.1 359.4,216.2 360.1,216.2 360.8,216.3 361.5,217.1 362.2,216.8 362.9,215.1 363.6,216.4 364.3,216.1 365.0,216.4 365.7,215.9 366.4,215.7 367.1,217.0 367.8,216.4 368.4,215.7 369.1,215.8 369.8,216.0 370.5,215.7 371.2,216.6 371.9,215.6 372.6,215.5 373.2,215.5 373.9,215.7 374.6,217.3 375.3,215.8 376.0,216.7 376.7,217.5 377.4,216.8 378.1,216.0 378.8,217.9 379.5,217.9 380.3,215.8 381.0,216.4 381.7,217.1 382.4,217.9 383.1,216.8 383.8,217.7 384.5,216.5 385.2,217.8 385.9,216.8 386.6,216.8 387.3,218.0 388.1,218.2 388.8,218.2 389.5,217.6 390.2,217.2 390.9,218.0 391.6,217.8 392.3,218.3 393.0,218.2 393.6,216.4 394.3,217.1 395.0,217.8 395.7,216.6 396.4,216.5 397.1,216.0 397.7,217.4 398.4,218.3 399.1,218.4 399.8,216.2 400.5,217.6 401.1,216.9 401.8,217.4 402.5,216.7 403.2,218.3 403.8,218.7 404.5,216.4 405.1,218.4 405.8,217.0 406.8,211.8 407.4,210.9 408.1,212.3 408.8,213.2 409.4,211.1 410.1,211.8 410.8,211.2 411.5,212.7 412.1,212.8 412.8,212.7 413.5,212.7 414.2,214.1 414.9,214.3 415.7,212.9 416.4,213.3 417.1,214.0 417.8,214.4 418.6,215.1 419.3,213.6 420.0,214.5 420.6,214.6 421.2,215.8 421.8,214.6 422.5,214.6 423.2,214.4 423.9,216.5 424.5,214.7 425.2,215.3 425.9,214.3 426.6,214.7 427.3,213.9 427.9,215.3 428.6,214.2 429.3,215.4 430.0,214.4 430.7,214.3 431.4,215.0 432.1,214.7 432.8,214.4 433.5,213.8 434.2,213.9 434.9,216.0 435.6,214.5 436.3,213.9 437.0,214.2 437.7,215.0 438.4,216.3 439.1,214.2 439.8,216.0 440.4,215.0 441.1,214.8 441.8,215.9 442.5,214.8 443.2,213.9 443.9,215.2 444.5,215.5 445.2,215.4 445.9,214.5 446.6,216.3 447.3,216.1 448.0,216.4 448.6,215.0 449.3,216.1 450.0,215.8 450.7,214.4 451.5,214.0 452.2,214.4 452.9,214.3 453.6,214.2 454.4,215.0 455.1,216.0 455.8,214.9 456.6,215.4 457.3,214.1 458.0,214.7 458.7,216.7 459.4,214.3 460.1,215.7 460.9,216.5 461.6,216.5 462.3,216.4 463.0,215.6 463.7,216.7 464.4,216.9 465.0,217.9 465.6,219.8 466.2,209.0 467.0,206.7 467.8,207.5 468.5,210.5 469.2,210.0 470.0,212.3 470.8,210.6 471.5,212.7 472.2,211.9 472.9,212.4 473.5,212.5 474.2,213.3 474.9,213.8 475.6,212.8 476.2,213.6 476.9,213.0 477.6,212.9 478.3,214.6 479.0,213.2 479.6,212.7 480.3,213.5 481.0,214.6 481.7,213.2 482.4,214.6 483.1,214.0 483.8,214.3 484.5,213.0 485.2,212.7 485.8,212.8 486.5,213.3 487.2,213.5 487.9,212.3 488.6,213.6 489.3,213.3 490.0,213.0 490.7,213.3 491.3,214.2 492.0,212.0 492.7,213.5 493.3,211.8 494.0,212.7 494.6,210.3 495.2,211.9 495.8,209.8 496.6,213.0 497.5,212.8 498.2,213.2 498.9,214.0 499.6,212.6 500.3,212.8 501.1,213.8 501.8,214.5 502.5,212.8 503.2,212.4 503.9,212.9 504.6,214.5 505.3,212.0 506.1,213.0 506.8,212.0 507.5,212.4 508.3,211.0 509.0,211.8 509.7,211.8 510.3,211.1 511.0,209.8 511.7,210.3 512.3,211.3 513.0,211.0 513.8,213.1 514.5,213.0 515.2,212.6 516.0,213.4 516.8,212.5 517.5,212.2 518.2,211.5 519.0,212.3 520.0,214.2 520.6,218.5" stroke="#7B2CA8" stroke-width="2.4"/><path d="M307.0,224.6h0M307.7,225.2h0M308.5,225.3h0M309.2,224.5h0M309.9,225.7h0M310.6,224.6h0M311.4,224.2h0M312.1,224.8h0M312.8,224.9h0M313.5,224.2h0M314.3,225.3h0M315.0,225.5h0M315.7,225.1h0M316.4,225.5h0M317.1,223.7h0M317.8,224.6h0M318.5,224.5h0M319.2,223.7h0M319.9,224.6h0M320.6,223.7h0M321.3,224.8h0M322.0,225.0h0M322.7,224.8h0M323.5,224.4h0M324.2,224.3h0M324.9,223.7h0M325.6,224.6h0M326.4,226.1h0M327.1,225.3h0M327.8,224.5h0M328.5,225.6h0M329.3,224.4h0M330.0,225.2h0M330.7,225.5h0M331.4,226.4h0M332.1,224.8h0M332.9,225.3h0M333.6,226.2h0M334.3,225.7h0M335.0,225.2h0M335.7,225.2h0M336.4,224.6h0M337.1,224.5h0M337.9,224.1h0M338.6,225.5h0M339.3,225.5h0M340.0,224.2h0M340.7,225.5h0M341.4,223.2h0M342.1,223.4h0M342.8,224.3h0M343.5,223.8h0M344.2,223.8h0M344.9,225.4h0M345.6,223.2h0M346.3,223.3h0M347.0,223.3h0M347.8,223.5h0M348.5,221.3h0M349.2,219.5h0M350.0,219.6h0M350.7,219.0h0M351.3,218.4h0M352.0,218.8h0M352.7,219.1h0M353.3,218.7h0M354.0,218.8h0M354.8,217.4h0M355.5,216.9h0M356.1,217.1h0M356.8,215.3h0M357.4,215.2h0M358.0,216.5h0M358.7,215.1h0M359.4,216.2h0M360.1,216.2h0M360.8,216.3h0M361.5,217.1h0M362.2,216.8h0M362.9,215.1h0M363.6,216.4h0M364.3,216.1h0M365.0,216.4h0M365.7,215.9h0M366.4,215.7h0M367.1,217.0h0M367.8,216.4h0M368.4,215.7h0M369.1,215.8h0M369.8,216.0h0M370.5,215.7h0M371.2,216.6h0M371.9,215.6h0M372.6,215.5h0M373.2,215.5h0M373.9,215.7h0M374.6,217.3h0M375.3,215.8h0M376.0,216.7h0M376.7,217.5h0M377.4,216.8h0M378.1,216.0h0M378.8,217.9h0M379.5,217.9h0M380.3,215.8h0M381.0,216.4h0M381.7,217.1h0M382.4,217.9h0M383.1,216.8h0M383.8,217.7h0M384.5,216.5h0M385.2,217.8h0M385.9,216.8h0M386.6,216.8h0M387.3,218.0h0M388.1,218.2h0M388.8,218.2h0M389.5,217.6h0M390.2,217.2h0M390.9,218.0h0M391.6,217.8h0M392.3,218.3h0M393.0,218.2h0M393.6,216.4h0M394.3,217.1h0M395.0,217.8h0M395.7,216.6h0M396.4,216.5h0M397.1,216.0h0M397.7,217.4h0M398.4,218.3h0M399.1,218.4h0M399.8,216.2h0M400.5,217.6h0M401.1,216.9h0M401.8,217.4h0M402.5,216.7h0M403.2,218.3h0M403.8,218.7h0M404.5,216.4h0M405.1,218.4h0M405.8,217.0h0M406.8,211.8h0M407.4,210.9h0M408.1,212.3h0M408.8,213.2h0M409.4,211.1h0M410.1,211.8h0M410.8,211.2h0M411.5,212.7h0M412.1,212.8h0M412.8,212.7h0M413.5,212.7h0M414.2,214.1h0M414.9,214.3h0M415.7,212.9h0M416.4,213.3h0M417.1,214.0h0M417.8,214.4h0M418.6,215.1h0M419.3,213.6h0M420.0,214.5h0M420.6,214.6h0M421.2,215.8h0M421.8,214.6h0M422.5,214.6h0M423.2,214.4h0M423.9,216.5h0M424.5,214.7h0M425.2,215.3h0M425.9,214.3h0M426.6,214.7h0M427.3,213.9h0M427.9,215.3h0M428.6,214.2h0M429.3,215.4h0M430.0,214.4h0M430.7,214.3h0M431.4,215.0h0M432.1,214.7h0M432.8,214.4h0M433.5,213.8h0M434.2,213.9h0M434.9,216.0h0M435.6,214.5h0M436.3,213.9h0M437.0,214.2h0M437.7,215.0h0M438.4,216.3h0M439.1,214.2h0M439.8,216.0h0M440.4,215.0h0M441.1,214.8h0M441.8,215.9h0M442.5,214.8h0M443.2,213.9h0M443.9,215.2h0M444.5,215.5h0M445.2,215.4h0M445.9,214.5h0M446.6,216.3h0M447.3,216.1h0M448.0,216.4h0M448.6,215.0h0M449.3,216.1h0M450.0,215.8h0M450.7,214.4h0M451.5,214.0h0M452.2,214.4h0M452.9,214.3h0M453.6,214.2h0M454.4,215.0h0M455.1,216.0h0M455.8,214.9h0M456.6,215.4h0M457.3,214.1h0M458.0,214.7h0M458.7,216.7h0M459.4,214.3h0M460.1,215.7h0M460.9,216.5h0M461.6,216.5h0M462.3,216.4h0M463.0,215.6h0M463.7,216.7h0M464.4,216.9h0M465.0,217.9h0M465.6,219.8h0M466.2,209.0h0M467.0,206.7h0M467.8,207.5h0M468.5,210.5h0M469.2,210.0h0M470.0,212.3h0M470.8,210.6h0M471.5,212.7h0M472.2,211.9h0M472.9,212.4h0M473.5,212.5h0M474.2,213.3h0M474.9,213.8h0M475.6,212.8h0M476.2,213.6h0M476.9,213.0h0M477.6,212.9h0M478.3,214.6h0M479.0,213.2h0M479.6,212.7h0M480.3,213.5h0M481.0,214.6h0M481.7,213.2h0M482.4,214.6h0M483.1,214.0h0M483.8,214.3h0M484.5,213.0h0M485.2,212.7h0M485.8,212.8h0M486.5,213.3h0M487.2,213.5h0M487.9,212.3h0M488.6,213.6h0M489.3,213.3h0M490.0,213.0h0M490.7,213.3h0M491.3,214.2h0M492.0,212.0h0M492.7,213.5h0M493.3,211.8h0M494.0,212.7h0M494.6,210.3h0M495.2,211.9h0M495.8,209.8h0M496.6,213.0h0M497.5,212.8h0M498.2,213.2h0M498.9,214.0h0M499.6,212.6h0M500.3,212.8h0M501.1,213.8h0M501.8,214.5h0M502.5,212.8h0M503.2,212.4h0M503.9,212.9h0M504.6,214.5h0M505.3,212.0h0M506.1,213.0h0M506.8,212.0h0M507.5,212.4h0M508.3,211.0h0M509.0,211.8h0M509.7,211.8h0M510.3,211.1h0M511.0,209.8h0M511.7,210.3h0M512.3,211.3h0M513.0,211.0h0M513.8,213.1h0M514.5,213.0h0M515.2,212.6h0M516.0,213.4h0M516.8,212.5h0M517.5,212.2h0M518.2,211.5h0M519.0,212.3h0M520.0,214.2h0M520.6,218.5h0" stroke="#7B2CA8" stroke-width="4.8"/></g>
<line x1="68.3" y1="277.6" x2="532.7" y2="277.6" stroke="#3A3A3A" stroke-width="1.8"/>
<g><text transform="translate(150.36,20.08) scale(1.0228,1)" font-size="17.5">1 ml/min</text><text transform="translate(260.38,20.08) scale(1.0137,1)" font-size="17.5">2 ml/min</text><text transform="translate(371.51,20.08) scale(0.9949,1)" font-size="17.5">4 ml/min</text><text transform="translate(150.40,48.08) scale(1.0128,1)" font-size="17.5">6 ml/min</text><text transform="translate(261.42,48.08) scale(0.9968,1)" font-size="17.5">8 ml/min</text><text transform="translate(370.88,48.19) scale(1.0081,1)" font-size="17.5">16 ml/min</text><text transform="translate(23.71,77.26) scale(1.0440,1)" font-size="15.5">241.3</text><text transform="translate(25.44,106.84) scale(1.0597,1)" font-size="15.5">206.8</text><text transform="translate(26.41,137.04) scale(1.0324,1)" font-size="15.5">172.4</text><text transform="translate(29.39,166.46) scale(1.0615,1)" font-size="15.5">137.8</text><text transform="translate(29.94,194.84) scale(1.0175,1)" font-size="15.5">103.4</text><text transform="translate(33.41,223.14) scale(1.0792,1)" font-size="15.5">68.9</text><text transform="translate(33.95,251.82) scale(1.0579,1)" font-size="15.5">34.5</text><text transform="translate(45.22,282.82) scale(1.1186,1)" font-size="15.5">0</text><text transform="translate(64.14,304.10) scale(1.0328,1)" font-size="17">0</text><text transform="translate(214.85,303.84) scale(1.0282,1)" font-size="17">50</text><text transform="translate(365.29,303.84) scale(1.0019,1)" font-size="17">100</text><text transform="translate(519.68,304.14) scale(1.0168,1)" font-size="17">150</text><text transform="translate(223.89,326.60) scale(1.0113,1)" font-size="17.5">Pore Volume Injected</text><text transform="translate(18.20,259.69) rotate(-90) scale(1.0011,1)" font-size="17.5">Injection Pressure, kPa</text></g>
<g><line x1="116.5" y1="14.2" x2="148.2" y2="14.2" stroke="#000000" stroke-width="2.3"/><circle cx="132.3" cy="14.2" r="2.1" fill="#000000"/><line x1="226.4" y1="14.2" x2="258.5" y2="14.2" stroke="#FF9200" stroke-width="2.3"/><circle cx="242.4" cy="14.2" r="2.1" fill="#FF9200"/><line x1="336.6" y1="14.2" x2="367.8" y2="14.2" stroke="#04B04C" stroke-width="2.3"/><circle cx="352.2" cy="14.2" r="2.1" fill="#04B04C"/><line x1="116.5" y1="42.4" x2="148.2" y2="42.4" stroke="#0872CF" stroke-width="2.3"/><circle cx="132.3" cy="42.4" r="2.1" fill="#0872CF"/><line x1="226.4" y1="42.4" x2="258.5" y2="42.4" stroke="#FF0000" stroke-width="2.3"/><circle cx="242.4" cy="42.4" r="2.1" fill="#FF0000"/><line x1="336.6" y1="42.4" x2="367.8" y2="42.4" stroke="#7B2CA8" stroke-width="2.3"/><circle cx="352.2" cy="42.4" r="2.1" fill="#7B2CA8"/></g>
</svg>
</body></html>
